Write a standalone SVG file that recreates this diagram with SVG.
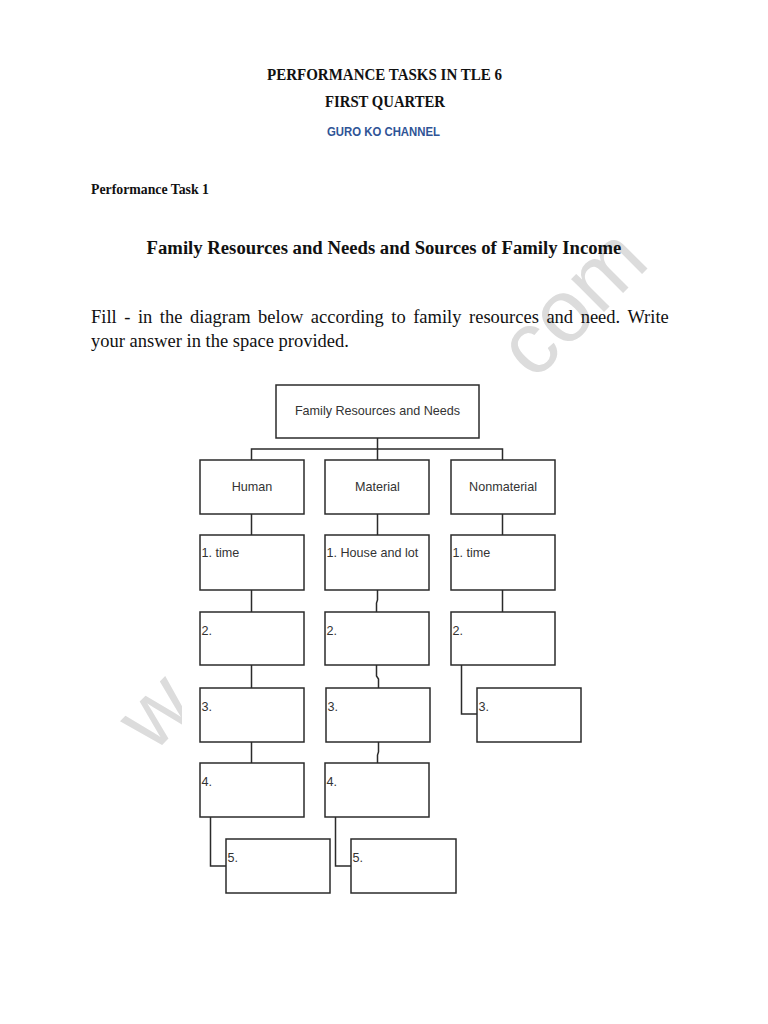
<svg xmlns="http://www.w3.org/2000/svg" width="768" height="1024" viewBox="0 0 768 1024">
<defs>
<style>
.hd{font-family:"Liberation Serif","Times New Roman",serif;fill:#111}
.lbl{font-family:"Liberation Sans",Arial,sans-serif;font-size:12.6px;fill:#333}
.c{text-anchor:middle}
.box{fill:#fff;stroke:#2b2b2b;stroke-width:1.5}
.ln{fill:none;stroke:#2b2b2b;stroke-width:1.5}
.wm{font-family:"Liberation Sans",Arial,sans-serif;font-size:88px;fill:#dcdcdc}
</style>
<clipPath id="wmclip"><path clip-rule="evenodd" d="M0 0H768V1024H0Z M182 377H600V905H182Z"/></clipPath>
</defs>
<rect width="768" height="1024" fill="#fff"/>
<g id="watermark" clip-path="url(#wmclip)">
<text class="wm" transform="translate(153,754) rotate(-45)">w</text>
<text class="wm" transform="translate(534,382) rotate(-45)">com</text>
</g>
<g id="header">
<text class="hd" x="267" y="80" font-size="15.7" font-weight="bold" textLength="235" lengthAdjust="spacingAndGlyphs">PERFORMANCE TASKS IN TLE 6</text>
<text class="hd" x="325" y="107" font-size="15.7" font-weight="bold" textLength="120" lengthAdjust="spacingAndGlyphs">FIRST QUARTER</text>
<text x="327" y="136" font-family="'Liberation Sans',Arial,sans-serif" font-weight="bold" font-size="13.2" fill="#2f5496" textLength="113" lengthAdjust="spacingAndGlyphs">GURO KO CHANNEL</text>
<text class="hd" x="91" y="193.5" font-size="14.5" font-weight="bold" textLength="118" lengthAdjust="spacingAndGlyphs">Performance Task 1</text>
<text class="hd c" x="384" y="254" font-size="18.7" font-weight="bold">Family Resources and Needs and Sources of Family Income</text>
<text class="hd" x="91" y="323" font-size="18.5" word-spacing="2.9">Fill - in the diagram below according to family resources and need. Write</text>
<text class="hd" x="91" y="347" font-size="18.5">your answer in the space provided.</text>
</g>
<g id="connectors">
<path class="ln" d="M377.5 438V449M251.5 460V449H502.5V460M377.5 449V460"/>
<path class="ln" d="M251.5 514V535M251.5 590V612M251.5 665V688M251.5 742V763"/>
<path class="ln" d="M377.5 514V535M377.5 590V600L376.5 603V612M376.5 665V676L378.5 679V688M378.5 742V752L377.5 755V763"/>
<path class="ln" d="M502.5 514V535M502.5 590V612"/>
<path class="ln" d="M461.5 665V714H477"/>
<path class="ln" d="M210.5 817V866H226"/>
<path class="ln" d="M335.5 817V866H351"/>
</g>
<g id="root"><rect class="box" x="276" y="385" width="203" height="53"/><text class="lbl c" x="377.5" y="415">Family Resources and Needs</text></g>
<g id="human"><rect class="box" x="200" y="460" width="104" height="54"/><text class="lbl c" x="252" y="491">Human</text></g>
<g id="material"><rect class="box" x="325" y="460" width="104" height="54"/><text class="lbl c" x="377.5" y="491">Material</text></g>
<g id="nonmaterial"><rect class="box" x="451" y="460" width="104" height="54"/><text class="lbl c" x="503" y="491">Nonmaterial</text></g>
<g id="human-1"><rect class="box" x="200" y="535" width="104" height="55"/><text class="lbl" x="201.5" y="557">1. time</text></g>
<g id="material-1"><rect class="box" x="325" y="535" width="104" height="55"/><text class="lbl" x="326.5" y="557">1. House and lot</text></g>
<g id="nonmaterial-1"><rect class="box" x="451" y="535" width="104" height="55"/><text class="lbl" x="452.5" y="557">1. time</text></g>
<g id="human-2"><rect class="box" x="200" y="612" width="104" height="53"/><text class="lbl" x="201.5" y="635">2.</text></g>
<g id="material-2"><rect class="box" x="325" y="612" width="104" height="53"/><text class="lbl" x="326.5" y="635">2.</text></g>
<g id="nonmaterial-2"><rect class="box" x="451" y="612" width="104" height="53"/><text class="lbl" x="452.5" y="635">2.</text></g>
<g id="human-3"><rect class="box" x="200" y="688" width="104" height="54"/><text class="lbl" x="201.5" y="710.5">3.</text></g>
<g id="material-3"><rect class="box" x="326" y="688" width="104" height="54"/><text class="lbl" x="327.5" y="710.5">3.</text></g>
<g id="nonmaterial-3"><rect class="box" x="477" y="688" width="104" height="54"/><text class="lbl" x="478.5" y="710.5">3.</text></g>
<g id="human-4"><rect class="box" x="200" y="763" width="104" height="54"/><text class="lbl" x="201.5" y="786">4.</text></g>
<g id="material-4"><rect class="box" x="325" y="763" width="104" height="54"/><text class="lbl" x="326.5" y="786">4.</text></g>
<g id="human-5"><rect class="box" x="226" y="839" width="104" height="54"/><text class="lbl" x="227.5" y="861.5">5.</text></g>
<g id="material-5"><rect class="box" x="351" y="839" width="105" height="54"/><text class="lbl" x="352.5" y="861.5">5.</text></g>
</svg>
